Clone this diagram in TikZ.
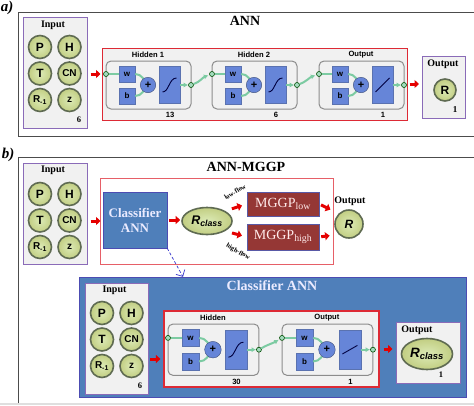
\documentclass[tikz,border=0pt]{standalone}
\usepackage{fontspec}
\setmainfont{Liberation Serif}
\setsansfont{Liberation Sans}
\usepackage{xcolor}
\usetikzlibrary{arrows.meta}
\usetikzlibrary{calc}
\usetikzlibrary{shapes.geometric}

\definecolor{ballfill}{HTML}{D8E8AE}
\definecolor{ballrim}{HTML}{5F6B52}
\definecolor{boxgray}{HTML}{F1F1F1}
\definecolor{purpleline}{HTML}{8A6BB8}
\definecolor{redline}{HTML}{DD2A35}
\definecolor{layerline}{HTML}{8C8C8C}
\definecolor{tfblue}{HTML}{6685D8}
\definecolor{tfedge}{HTML}{5A72B0}
\definecolor{wire}{HTML}{7CCBA2}
\definecolor{panelblue}{HTML}{4F7FBA}
\definecolor{mgred}{HTML}{953735}

\tikzset{
    ball/.style={circle,draw=ballrim,line width=1.6pt,inner color=ballfill!90!white,outer color=ballfill!75!olive,minimum size=23pt,inner sep=0pt,font=\sffamily\bfseries\fontsize{12}{12}\selectfont},
    smallball/.style={ball,font=\sffamily\bfseries\fontsize{10}{10}\selectfont},
    inbox/.style={draw=purpleline,line width=1pt,fill=boxgray,inner sep=0pt},
    redbox/.style={draw=redline,line width=1pt,fill=boxgray,inner sep=0pt},
    layerbox/.style={draw=layerline,line width=1pt,fill=boxgray,rounded corners=5pt,inner sep=0pt},
    wbox/.style={draw=tfedge,fill=tfblue,inner sep=0pt,font=\sffamily\bfseries\fontsize{8}{8}\selectfont},
    sumball/.style={circle,draw=tfedge!70!black,fill=tfblue,inner sep=0pt,font=\sffamily\bfseries\fontsize{11}{11}\selectfont},
    dot/.style={circle,draw=black!70!green,fill=wire!70!white,line width=0.6pt,minimum size=5pt,inner sep=0pt},
    wireline/.style={draw=wire,line width=2pt},
    wirearrow/.style={wireline,-{Latex[length=4.5pt,width=5pt]}},
    redarrow/.style={draw=red!90!black,line width=3pt,-{Triangle[length=4.5pt,width=8pt]}},
    tfcurve/.style={draw=blue!25!black,line width=0.9pt},
    titletext/.style={font=\bfseries\fontsize{14}{14}\selectfont},
    boldtext/.style={font=\bfseries\fontsize{10}{10}\selectfont},
    layertext/.style={font=\sffamily\bfseries\fontsize{7.6}{7.6}\selectfont},
    counttext/.style={font=\bfseries\fontsize{8.5}{8.5}\selectfont},
    flowtext/.style={font=\bfseries\fontsize{6.5}{6.5}\selectfont},
    mggpbox/.style={draw=blue!30!gray,fill=mgred,text=red!8!white,minimum width=72pt,inner sep=0pt,font=\fontsize{14}{14}\selectfont},
}

% the six input balls, #1 is the prefix of their names
\newcommand{\inputballs}[3]{
    \node[ball] (#1P) at (#2,#3){P};
    \node[ball] (#1H) at (#2+29.5,#3){H};
    \node[ball] (#1T) at (#2,#3+26.5){T};
    \node[smallball] (#1CN) at (#2+29.5,#3+26.5){CN};
    \node[smallball] (#1R) at (#2,#3+53){R\textsubscript{-1}};
    \node[smallball] (#1z) at (#2+29.5,#3+53){z};
}

% one layer: name, left, top, scale, title, count, curve
\newcommand{\annlayer}[7]{
    \begin{scope}[shift={(#2,#3)},x=#4pt,y=-#4pt]
        \node[layerbox,minimum width=85pt*#4,minimum height=48pt*#4] (#1box) at (42.5,24){};
        \node[layertext] (#1title) at (42,-6){#5};
        \node[counttext,font=\sffamily\bfseries\fontsize{7.6}{7.6}\selectfont] (#1count) at (64,54){#6};
        \node[wbox,minimum size=16pt*#4] (#1w) at (21,13){w};
        \node[wbox,minimum size=16pt*#4] (#1b) at (21,35){b};
        \node[wbox,fill=tfblue,minimum width=21pt*#4,minimum height=37pt*#4] (#1tf) at (63.5,24){};
        \draw[wireline] (#1w.east) to[out=0,in=130] (42,24);
        \draw[wireline] (#1b.east) to[out=0,in=230] (42,24);
        \node[sumball,minimum size=15.5pt*#4] (#1sum) at (42,24){+};
        \node[dot] (#1in) at (0,13){};
        \node[dot] (#1out) at (85,24){};
        \draw[wireline] (#1in) -- (#1w);
        \draw[wirearrow] (#1tf) -- (#1out);
        \draw[tfcurve] #7;
    \end{scope}
}
\newcommand{\sigmoidpath}{(56.5,31) .. controls (63,31) and (63,17) .. (70.5,17)}
\newcommand{\linearpath}{(56.5,31) -- (70.5,17)}
\newcommand{\flatpath}{(56.5,28) -- (70.5,20)}

\begin{document}
\begin{tikzpicture}[x=1pt,y=-1pt]
        \useasboundingbox (0,0) rectangle (474,405);
        \fill[gray!25] (0,403) rectangle (474,405);

        % panel a
        \node[font=\bfseries\itshape\fontsize{15}{15}\selectfont] (labela) at (7,8){a)};
        \draw[black!70,line width=1pt,fill=white] (18,12) -- (476,12) -- (476,136) -- (18,136) -- cycle;
        \node[titletext] (titlea) at (245,21){ANN};
        \node[inbox,minimum width=64pt,minimum height=111pt] (inputa) at (55,72.5){};
        \node[boldtext] (inputtexta) at (53,25){Input};
        \inputballs{a}{40}{47}
        \node[counttext] (sixa) at (79,120){6};
        \node[redbox,minimum width=305pt,minimum height=72pt] (redboxa) at (254.5,84){};
        \annlayer{aone}{106}{61}{1}{Hidden 1}{13}{\sigmoidpath}
        \annlayer{atwo}{212}{61}{1}{Hidden 2}{6}{\sigmoidpath}
        \annlayer{athree}{319}{61}{1}{Output}{1}{\linearpath}
        \draw[wirearrow,shorten >=1pt] (aoneout) to[out=20,in=200] (atwoin);
        \draw[wirearrow,shorten >=1pt] (atwoout) to[out=20,in=200] (athreein);
        \node[inbox,minimum width=43pt,minimum height=62pt] (outputa) at (444,87){};
        \node[boldtext] (outtexta) at (443,64.5){Output};
        \node[ball,minimum size=22pt] (Ra) at (445,90){R};
        \node[counttext,font=\bfseries\fontsize{9}{9}\selectfont] (onea) at (455,110){1};
        \draw[redarrow] ([xshift=3pt,yshift=-1.5pt]inputa.east) -- ([xshift=-1pt,yshift=-1.5pt]inputa.east -| redboxa.west);
        \draw[redarrow] ([xshift=2pt]redboxa.east) -- ([xshift=-3pt]redboxa.east -| outputa.west);

        % panel b
        \node[font=\bfseries\itshape\fontsize{15}{15}\selectfont] (labelb) at (8,155){b)};
        \draw[black!70,line width=1pt,fill=white] (18,403) -- (18,157) -- (476,157);
        \node[titletext] (titleb) at (246,167){ANN-MGGP};
        \node[inbox,minimum width=64pt,minimum height=101pt] (inputb) at (55,213.5){};
        \node[boldtext] (inputtextb) at (53,170.5){Input};
        \inputballs{b}{40}{194}
        \node[redbox,fill=white,draw=redline!75!white,minimum width=233pt,minimum height=86pt] (redboxb) at (216.5,221){};
        \node[draw=blue!40!gray,fill=panelblue,text=blue!8!white,minimum width=64pt,minimum height=56pt,inner sep=0pt,align=center,font=\bfseries\fontsize{13}{15}\selectfont] (classb) at (135,220){Classifier\\ANN};
        \node[ball,ellipse,minimum width=50pt,minimum height=27pt,font=\sffamily\bfseries\itshape\fontsize{12.5}{12.5}\selectfont] (rclassb) at (207,221){R\textsubscript{class}};
        \node[mggpbox,minimum height=24pt] (lowb) at (283,204){MGGP\textsubscript{low}};
        \node[mggpbox,minimum height=26pt] (highb) at (283,237){MGGP\textsubscript{high}};
        \node[flowtext,rotate=30] (lowtext) at (235,192){low-flow};
        \node[flowtext,rotate=-30] (hightext) at (238,252){high-flow};
        \node[boldtext] (outtextb) at (350,201){Output};
        \node[ball,font=\sffamily\bfseries\itshape\fontsize{12}{12}\selectfont,minimum size=28pt] (Rb) at (349,224){R};
        \draw[redarrow] ([xshift=-9pt]redboxb.west) -- ([xshift=1pt]redboxb.west);
        \draw[redarrow] ([xshift=2pt]classb.east) -- ([xshift=-1pt]classb.east -| rclassb.west);
        \draw[redarrow,shorten <=7pt,shorten >=5pt] (rclassb.north east) -- (lowb.west);
        \draw[redarrow,shorten <=7pt,shorten >=5pt] (rclassb.south east) -- (highb.west);
        \draw[redarrow,shorten <=2pt,shorten >=9pt] (lowb.east) -- (Rb.north west);
        \draw[redarrow,shorten <=2pt,shorten >=9pt] (highb.east) -- (Rb.south west);

        % classifier panel
        \node[draw=blue!40!gray,fill=panelblue,minimum width=387pt,minimum height=120pt,inner sep=0pt] (panelc) at (272.5,337){};
        \draw[densely dashed,blue!60!gray,line width=0.7pt,-{Straight Barb[length=5pt]}] (classb.south east) -- ([xshift=-89.5pt]panelc.north);
        \node[titletext,text=blue!8!white] (titlec) at (272,286){Classifier ANN};
        \node[inbox,minimum width=63pt,minimum height=111pt] (inputc) at (116.5,338.5){};
        \node[boldtext] (inputtextc) at (114.5,290){Input};
        \inputballs{c}{102}{313}
        \node[counttext] (sixc) at (140,386){6};
        \node[redbox,line width=1.2pt,minimum width=215pt,minimum height=76pt] (redboxc) at (271.5,349){};
        \annlayer{cone}{168}{324}{1.07}{Hidden}{30}{\sigmoidpath}
        \annlayer{ctwo}{282}{324}{1.07}{Output}{1}{\flatpath}
        \draw[wirearrow,shorten >=1pt] (coneout) to[out=30,in=210] (ctwoin);
        \node[inbox,minimum width=64pt,minimum height=61pt] (outputc) at (428,352.5){};
        \node[boldtext] (outtextc) at (417,330){Output};
        \node[ball,ellipse,minimum width=51pt,minimum height=31pt,font=\sffamily\bfseries\itshape\fontsize{13.5}{13.5}\selectfont] (rclassc) at (427,354){R\textsubscript{class}};
        \node[counttext] (onec) at (441,375){1};
        \draw[redarrow] ([xshift=-13pt,yshift=-10pt]redboxc.west) -- ([xshift=-3pt,yshift=-10pt]redboxc.west);
        \draw[redarrow] ([xshift=4pt]redboxc.east) -- ([xshift=-3pt]redboxc.east -| outputc.west);
\end{tikzpicture}
\end{document}
